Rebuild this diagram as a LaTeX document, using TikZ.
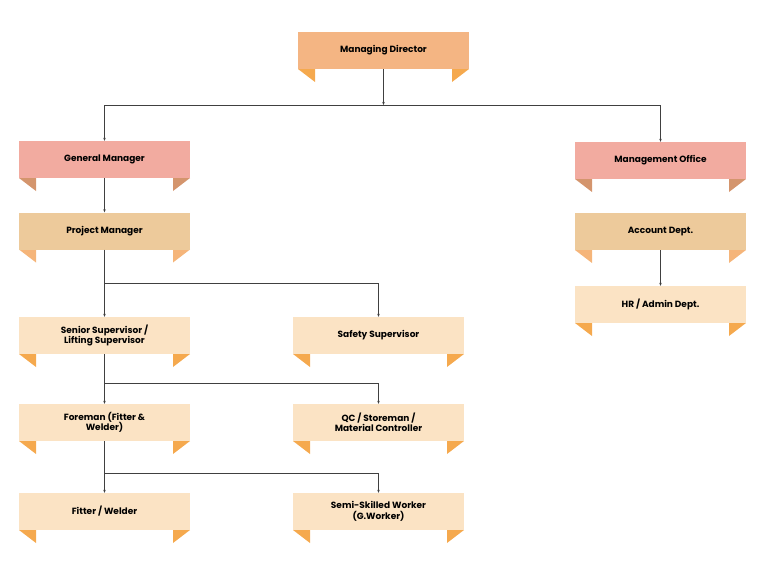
\documentclass[tikz,border=0pt]{standalone}
\usepackage{fontspec}
\setmainfont{Poppins}
\usetikzlibrary{arrows.meta}
\definecolor{cMD}{HTML}{F4B583}
\definecolor{tMD}{HTML}{F5A94E}
\definecolor{cGM}{HTML}{F2ABA0}
\definecolor{tGM}{HTML}{D4956D}
\definecolor{cPM}{HTML}{EDCA9B}
\definecolor{tPM}{HTML}{F5B57A}
\definecolor{cLt}{HTML}{FBE3C4}
\definecolor{tLt}{HTML}{F5A94E}
\tikzset{
  box/.style={draw=none,minimum width=171pt,minimum height=37pt,inner sep=0pt,align=center,
    font=\fontsize{9pt}{10.5pt}\selectfont\bfseries,text=black},
  conn/.style={draw=black!75,line width=0.6pt},
  arr/.style={conn,-{Stealth[length=3pt,width=2.5pt]}}
}
\newcommand{\ribbon}[6]{% name, cx, cy, fill, tab, text
  \fill[#5] (#2-85.5,#3+18.5) -- (#2-68.5,#3+18.5) -- (#2-68.5,#3+31.5) -- cycle;
  \fill[#5] (#2+85.5,#3+18.5) -- (#2+68.5,#3+18.5) -- (#2+68.5,#3+31.5) -- cycle;
  \node[box,fill=#4] (#1) at (#2,#3) {#6};
}
\begin{document}
\begin{tikzpicture}[x=1pt,y=-1pt]
\useasboundingbox (0,0) rectangle (768,576);
\ribbon{md}{383.5}{50.5}{cMD}{tMD}{Managing Director}
\ribbon{gm}{104.5}{159.5}{cGM}{tGM}{General Manager}
\ribbon{mo}{660.5}{160.5}{cGM}{tGM}{Management Office}
\ribbon{pm}{104.5}{231}{cPM}{tPM}{Project Manager}
\ribbon{ac}{660.5}{231.5}{cPM}{tPM}{Account Dept.}
\ribbon{hr}{660.5}{304.5}{cLt}{tLt}{HR / Admin Dept.}
\ribbon{ss}{104.5}{335.5}{cLt}{tLt}{Senior Supervisor /\\Lifting Supervisor}
\ribbon{sf}{378.5}{335.5}{cLt}{tLt}{Safety Supervisor}
\ribbon{fm}{104.5}{422.5}{cLt}{tLt}{Foreman (Fitter \&\\Welder)}
\ribbon{qc}{378.5}{422.5}{cLt}{tLt}{QC / Storeman /\\Material Controller}
\ribbon{fw}{104.5}{511.5}{cLt}{tLt}{Fitter / Welder}
\ribbon{sw}{378.5}{511.5}{cLt}{tLt}{Semi-Skilled Worker\\(G.Worker)}
\coordinate (j1) at (383.5,105);
\coordinate (j2) at (104.5,283);
\coordinate (j3) at (104.5,383);
\coordinate (j4) at (104.5,473);
\draw[arr] (md.south) -- (j1);
\draw[arr] (j1) -| (gm.north);
\draw[arr] (j1) -| (mo.north);
\draw[arr] (gm.south) -- (pm.north);
\draw[arr] (ac.south) -- (hr.north);
\draw[conn] (pm.south) -- (j2);
\draw[arr] (j2) -- (ss.north);
\draw[arr] (j2) -| (sf.north);
\draw[conn] (ss.south) -- (j3);
\draw[arr] (j3) -- (fm.north);
\draw[arr] (j3) -| (qc.north);
\draw[conn] (fm.south) -- (j4);
\draw[arr] (j4) -- (fw.north);
\draw[arr] (j4) -| (sw.north);
\end{tikzpicture}
\end{document}
